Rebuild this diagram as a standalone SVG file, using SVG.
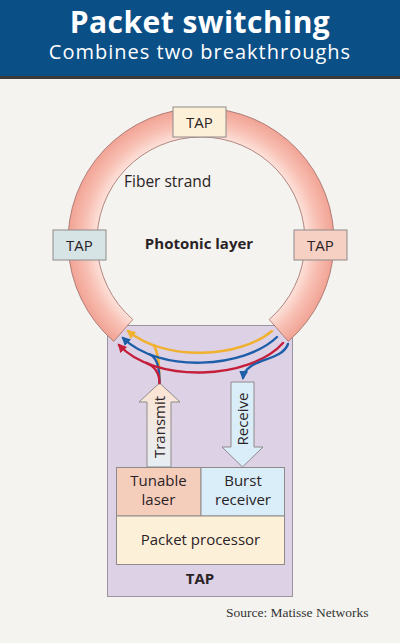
<svg xmlns="http://www.w3.org/2000/svg" width="400" height="643" viewBox="0 0 400 643">
<style>
text{font-family:"Open Sans","Noto Sans","DejaVu Sans",sans-serif;fill:#2a2326}
.lbl{font-size:15px;text-anchor:middle}
.bold{font-weight:700}
.box{stroke:#8f8a8a;stroke-width:1}
.ln{fill:none;stroke-width:2.4;stroke-linecap:round}
</style>
<defs>
<radialGradient id="ringG" gradientUnits="userSpaceOnUse" cx="201" cy="241" r="133">
<stop offset="0.78" stop-color="#fde2da"/>
<stop offset="0.88" stop-color="#f8c0b4"/>
<stop offset="1" stop-color="#f1a394"/>
</radialGradient>
<linearGradient id="txG" x1="0" y1="0" x2="0" y2="1">
<stop offset="0" stop-color="#fde3d2"/>
<stop offset="1" stop-color="#e6eef4"/>
</linearGradient>
<marker id="mY" markerUnits="userSpaceOnUse" markerWidth="10" markerHeight="10" refX="7" refY="4.5" orient="auto"><path d="M0,0 L9,4.5 L0,9 Z" fill="#f0b030"/></marker>
<marker id="mB" markerUnits="userSpaceOnUse" markerWidth="10" markerHeight="10" refX="7" refY="4.5" orient="auto"><path d="M0,0 L9,4.5 L0,9 Z" fill="#1d5ea8"/></marker>
<marker id="mR" markerUnits="userSpaceOnUse" markerWidth="10" markerHeight="10" refX="7" refY="4.5" orient="auto"><path d="M0,0 L9,4.5 L0,9 Z" fill="#c41e3a"/></marker>
</defs>
<rect x="0" y="0" width="400" height="643" fill="#f4f3ef"/>
<g id="header">
<rect x="0" y="0" width="400" height="76" fill="#0b4f87"/>
<rect x="0" y="76" width="400" height="3" fill="#3a3a3a"/>
<text x="200" y="33" text-anchor="middle" style="fill:#fff;font-size:30px;font-weight:700;letter-spacing:0.45px">Packet switching</text>
<text x="200" y="58.5" text-anchor="middle" style="fill:#fff;font-size:20px;letter-spacing:1px">Combines two breakthroughs</text>
</g>
<g id="tap-node">
<rect x="107.5" y="325.5" width="185" height="271" fill="#ddd1e6" stroke="#9b939e" stroke-width="1"/>
<text x="200" y="584" class="lbl bold">TAP</text>
</g>
<g id="ring">
<path d="M113.7,341.4 A133,133 0 1 1 288.3,341.4 L269.2,319.5 A104,104 0 1 0 132.8,319.5 Z" fill="url(#ringG)" stroke="#9e6b66" stroke-width="0.8"/>
<text x="124" y="187" style="font-size:15.5px">Fiber strand</text>
<text x="199" y="249" class="lbl bold">Photonic layer</text>
</g>
<g id="tap-top">
<rect x="173" y="107" width="53" height="30" fill="#fdf0d9" class="box"/>
<text x="199.5" y="127.5" class="lbl">TAP</text>
</g>
<g id="tap-left">
<rect x="53" y="230" width="53" height="30" fill="#d6e4e6" class="box"/>
<text x="79.5" y="250.5" class="lbl">TAP</text>
</g>
<g id="tap-right">
<rect x="294" y="230" width="53" height="30" fill="#f6d0c2" class="box"/>
<text x="320.5" y="250.5" class="lbl">TAP</text>
</g>
<g id="transmit">
<path d="M147,467 L147,402 L139,402 L159.5,383 L180,402 L171,402 L171,467 Z" fill="url(#txG)" stroke="#8f8a8a" stroke-width="1"/>
<text transform="translate(165,427) rotate(-90)" class="lbl">Transmit</text>
</g>
<g id="receive">
<path d="M231,382 L231,447 L222,447 L242.5,467 L263,447 L254,447 L254,382 Z" fill="#d9eef9" stroke="#8f8a8a" stroke-width="1"/>
<text transform="translate(248,419) rotate(-90)" class="lbl">Receive</text>
</g>
<g id="tunable-laser">
<rect x="116.5" y="467.5" width="84.5" height="48.5" fill="#f5cebb" class="box"/>
<text x="158.5" y="486" class="lbl">Tunable</text>
<text x="158.5" y="505" class="lbl">laser</text>
</g>
<g id="burst-receiver">
<rect x="201" y="467.5" width="83.5" height="48.5" fill="#d9eef9" class="box"/>
<text x="243" y="486" class="lbl">Burst</text>
<text x="243" y="505" class="lbl">receiver</text>
</g>
<g id="packet-processor">
<rect x="116.5" y="516" width="168" height="48.5" fill="#fdf0d9" class="box"/>
<text x="200.5" y="545" class="lbl">Packet processor</text>
</g>
<g id="connectors">
<path class="ln" d="M159.5,383 C159.5,362 158,352 153.6,345" stroke="#f0b030"/>
<path class="ln" d="M159.5,383 C159.5,366 157,358 149.6,354.2" stroke="#1d5ea8"/>
<path class="ln" d="M159.5,383 C159.5,372 154,366 146.2,362.8" stroke="#c41e3a"/>
<path class="ln" d="M272,331 C240,358 165,362 128,331" stroke="#f0b030" marker-end="url(#mY)"/>
<path class="ln" d="M277,337 C245,368 160,374 123,338" stroke="#1d5ea8" marker-end="url(#mB)"/>
<path class="ln" d="M283,343 C250,380 155,384 119,345" stroke="#c41e3a" marker-end="url(#mR)"/>
<path class="ln" d="M288,344 C282,362 245,358 243,378" stroke="#1d5ea8" marker-end="url(#mB)"/>
</g>
<text x="226" y="617" style="font-family:'Liberation Serif',serif;font-size:13.5px;fill:#333">Source: Matisse Networks</text>
</svg>
